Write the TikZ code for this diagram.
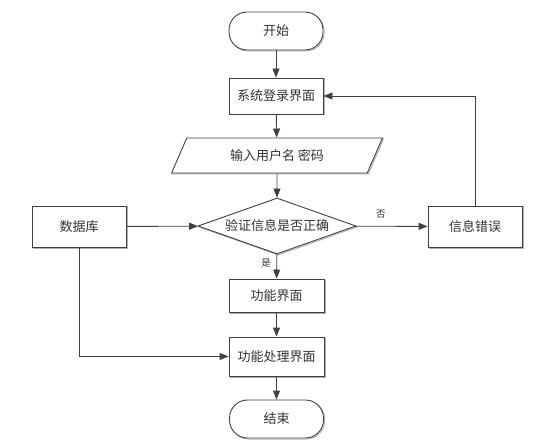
\documentclass[tikz,border=0pt]{standalone}
\usepackage{fontspec}
\setmainfont{Noto Sans CJK SC}
\usetikzlibrary{shapes.geometric,arrows.meta}
\definecolor{ln}{HTML}{404040}
\definecolor{shd}{HTML}{B0B0B0}
\tikzset{
  base/.style={draw=ln, line width=0.9pt, fill=white, font=\fontsize{13}{15}\selectfont, inner sep=0pt, text=black!80},
  term/.style={base, rectangle, rounded corners=18pt, minimum width=94pt, minimum height=38pt},
  procbox/.style={base, rectangle, minimum width=94pt, minimum height=36pt},
  iobox/.style={base, trapezium, trapezium left angle=57, trapezium right angle=123, trapezium stretches=true, minimum width=211pt, minimum height=35pt},
  decbox/.style={base, diamond, aspect=2.82, minimum width=158pt, minimum height=56pt},
  conn/.style={draw=ln, line width=0.9pt, -{Triangle[length=9pt,width=7pt]}},
  plain/.style={draw=ln, line width=0.9pt},
  lbl/.style={font=\fontsize{9.5}{11}\selectfont, text=black!80},
  shadowed/.style={preaction={draw=shd, line width=1pt, transform canvas={shift={(1pt,-1pt)}}}}
}
\begin{document}
\begin{tikzpicture}[x=1pt,y=-1pt]
\useasboundingbox (0,0) rectangle (556,446);
\node[term, shadowed] (start) at (276,31) {开始};
\node[procbox, shadowed] (login) at (276,96) {系统登录界面};
\node[iobox, shadowed] (input) at (277,155.5) {输入用户名 密码};
\node[decbox, shadowed] (check) at (277,226) {验证信息是否正确};
\node[procbox, shadowed, minimum height=41pt] (db) at (79,226.5) {数据库};
\node[procbox, shadowed, minimum height=41pt] (err) at (475,226.5) {信息错误};
\node[procbox, shadowed, minimum width=95pt, minimum height=33pt] (func) at (276.5,295.5) {功能界面};
\node[procbox, shadowed, minimum width=95pt, minimum height=39pt] (proc) at (276.5,356.5) {功能处理界面};
\node[term, shadowed] (end) at (276.5,419) {结束};
\coordinate (dbcorner) at (79,356.5);
\coordinate (errcorner) at (475,96);
\draw[conn] (start) -- (login);
\draw[conn] (login) -- (input);
\draw[conn] (input) -- (check);
\draw[conn] (db) -- (check);
\draw[conn] (check) -- node[lbl, above, pos=0.35, yshift=4pt] (no) {否} (err);
\draw[conn] (check) -- node[lbl, left, pos=0.35, xshift=-2pt] (yes) {是} (func);
\draw[conn] (func) -- (proc);
\draw[conn] (proc) -- (end);
\draw[plain] (db) -- (dbcorner);
\draw[conn] (dbcorner) -- (proc);
\draw[plain] (err) -- (errcorner);
\draw[conn] (errcorner) -- (login);
\end{tikzpicture}
\end{document}
